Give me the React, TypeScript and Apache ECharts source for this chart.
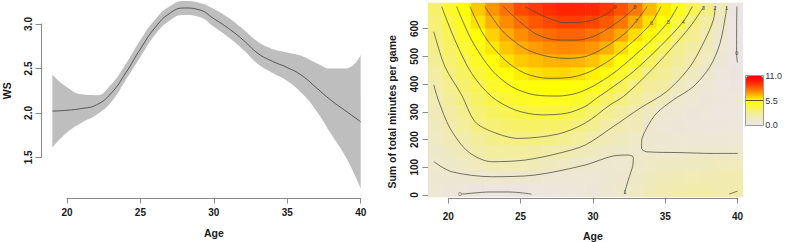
import React, { useEffect, useRef } from "react";
import * as echarts from "echarts";

// ---------- Left panel: WS by Age (smooth fit with confidence band) ----------
const ages = [19, 20, 21, 22, 23, 24, 25, 26, 27, 28, 29, 30, 31, 32, 33, 34, 35, 36, 37, 38, 39, 40];
const wsFit = [2.02, 2.03, 2.05, 2.09, 2.22, 2.45, 2.72, 2.96, 3.12, 3.18, 3.16, 3.06, 2.95, 2.82, 2.67, 2.58, 2.51, 2.42, 2.28, 2.14, 2.02, 1.9];
const wsUpper = [2.43, 2.29, 2.21, 2.2, 2.32, 2.55, 2.82, 3.05, 3.2, 3.26, 3.24, 3.17, 3.07, 2.94, 2.8, 2.72, 2.68, 2.64, 2.56, 2.5, 2.5, 2.65];
const wsLower = [1.61, 1.78, 1.89, 1.98, 2.12, 2.37, 2.63, 2.88, 3.04, 3.1, 3.08, 2.97, 2.85, 2.71, 2.55, 2.45, 2.36, 2.22, 2.02, 1.76, 1.5, 1.15];

// ---------- Right panel: fitted surface (Age x minutes) ----------
const minuteRows = [670, 625, 575, 530, 485, 435, 390, 345, 295, 250, 205, 155, 110, 60, 15];
const surface = [
  [3.4, 4.4, 5.35, 6.45, 7.35, 8.0, 8.75, 9.1, 9.4, 9.6, 9.6, 9.5, 9.2, 8.6, 7.85, 6.7, 5.8, 4.8, 3.85, 2.85, 1.6, 0],
  [3.2, 4.05, 4.95, 6.0, 6.85, 7.5, 8.03, 8.5, 8.8, 9.0, 9.0, 8.85, 8.45, 7.85, 7.0, 6.05, 5.35, 4.15, 2.97, 2.35, 1.2, 0],
  [3.0, 3.75, 4.6, 5.5, 6.3, 6.95, 7.45, 7.85, 8.1, 8.25, 8.25, 8.0, 7.6, 7.0, 6.1, 5.3, 4.35, 3.2, 2.65, 1.9, 0.85, 0],
  [2.8, 3.5, 4.25, 5.02, 5.9, 6.5, 6.9, 7.2, 7.45, 7.55, 7.5, 7.3, 6.85, 6.15, 5.35, 4.5, 3.5, 2.75, 2.3, 1.65, 0.65, 0],
  [2.55, 3.25, 3.85, 4.6, 5.4, 6.0, 6.4, 6.65, 6.8, 6.9, 6.8, 6.55, 6.05, 5.35, 4.55, 3.65, 2.8, 2.45, 1.97, 1.3, 0.5, 0],
  [2.25, 2.97, 3.55, 4.18, 4.85, 5.4, 5.8, 6.05, 6.15, 6.2, 6.05, 5.75, 5.15, 4.4, 3.7, 2.85, 2.55, 2.08, 1.45, 0.9, 0.35, 0.1],
  [2.0, 2.7, 3.3, 3.8, 4.4, 4.8, 5.15, 5.4, 5.5, 5.5, 5.3, 4.95, 4.25, 3.6, 2.9, 2.45, 2.3, 1.5, 0.97, 0.65, 0.25, 0.15],
  [1.8, 2.45, 2.95, 3.5, 3.95, 4.3, 4.55, 4.8, 4.8, 4.8, 4.55, 4.1, 3.45, 2.95, 2.45, 2.05, 1.5, 0.95, 0.65, 0.45, 0.2, 0.2],
  [1.6, 2.2, 2.65, 3.22, 3.55, 3.8, 3.9, 4.05, 4.05, 4.05, 3.75, 3.25, 2.65, 2.3, 1.95, 1.4, 0.7, 0.6, 0.45, 0.35, 0.25, 0.25],
  [1.45, 1.98, 2.4, 2.95, 3.2, 3.35, 3.45, 3.5, 3.45, 3.35, 3.0, 2.65, 2.2, 1.9, 1.6, 0.9, 0.55, 0.5, 0.4, 0.35, 0.3, 0.35],
  [1.3, 1.75, 2.15, 2.5, 2.8, 2.9, 3.0, 2.95, 2.85, 2.7, 2.4, 2.07, 1.7, 1.5, 1.25, 0.85, 0.7, 0.65, 0.6, 0.55, 0.55, 0.6],
  [1.1, 1.45, 1.7, 2.1, 2.35, 2.35, 2.4, 2.3, 2.15, 2.0, 1.75, 1.5, 1.2, 1.1, 1.02, 1.0, 1.0, 1.0, 1.0, 1.0, 1.0, 1.0],
  [0.98, 1.1, 1.3, 1.55, 1.85, 1.8, 1.8, 1.7, 1.45, 1.3, 1.1, 0.95, 0.85, 0.92, 1.05, 1.25, 1.35, 1.4, 1.45, 1.5, 1.55, 1.55],
  [0.8, 0.75, 0.75, 0.85, 0.95, 0.9, 0.9, 0.85, 0.65, 0.6, 0.55, 0.6, 0.7, 0.9, 1.15, 1.45, 1.65, 1.75, 1.8, 1.85, 1.9, 1.95],
  [0.65, 0.45, 0.2, 0.1, 0.05, 0.05, 0.1, 0.2, 0.2, 0.3, 0.35, 0.5, 0.7, 0.95, 1.25, 1.6, 1.85, 2.0, 2.1, 2.15, 1.95, 2.1],
];

// contour lines, [age, minutes]
const contour9 = [[25.3, 680], [26.68, 643], [28.06, 622], [29.45, 625], [30.83, 649], [31.55, 680]];
const contour8 = [[23.8, 680], [25.07, 619], [26.22, 577], [27.6, 559], [28.99, 559], [30.25, 577], [31.41, 613], [32.33, 649], [32.95, 680]];
const contour7 = [[22.53, 680], [23.69, 595], [25.07, 535], [26.45, 505], [28.06, 493], [29.45, 499], [30.71, 529], [32.21, 583], [33.02, 629], [33.75, 680]];
const contour6 = [[21.5, 680], [22.53, 571], [23.92, 487], [25.3, 439], [26.91, 421], [28.53, 425], [29.79, 445], [31.18, 487], [32.21, 529], [33.25, 577], [34.06, 622], [34.7, 680]];
const contour5 = [[20.58, 680], [21.61, 559], [23.0, 451], [24.38, 391], [25.99, 361], [27.6, 357], [28.87, 367], [30.02, 393], [31.41, 439], [32.79, 499], [34.17, 565], [35.21, 625], [35.85, 680]];
const contour4 = [[19.54, 680], [20.46, 559], [21.61, 439], [23.0, 355], [24.61, 307], [26.45, 289], [28.18, 295], [29.45, 319], [30.25, 349], [31.41, 391], [32.79, 445], [34.63, 535], [36.24, 625], [36.87, 680]];
const contour3 = [[19.0, 589], [19.77, 463], [20.92, 361], [21.84, 265], [23.0, 229], [24.84, 204], [27.6, 220], [29.45, 259], [31.18, 325], [32.1, 355], [33.71, 433], [35.32, 523], [36.71, 607], [37.67, 680]];
const contour2 = [[19.0, 397], [19.31, 343], [20.12, 241], [21.38, 156], [23.0, 120], [25.3, 126], [27.6, 150], [29.45, 180], [31.41, 247], [33.25, 313], [35.09, 373], [36.71, 463], [37.74, 559], [38.32, 631], [38.46, 680]];
const contour2b = [[39.4, 3], [40.0, 14]];
const contour1a = [[19.0, 120], [20.23, 84], [23.0, 66], [25.99, 72], [29.45, 108], [31.41, 141], [32.44, 144], [32.79, 136], [32.74, 102], [32.51, 66], [32.21, 12], [32.19, 4]];
const contour1b = [[39.24, 680], [39.19, 655], [38.78, 547], [38.09, 463], [36.94, 391], [35.55, 343], [34.4, 295], [33.71, 241], [33.36, 192], [33.36, 168], [33.71, 156], [36.01, 153], [38.32, 150], [40.0, 150]];
const contour0a = [[20.92, 3], [21.73, 7], [22.88, 11], [24.26, 11], [25.18, 7], [25.76, 3]];
const contour0b = [[39.95, 680], [39.93, 600], [39.93, 520], [39.96, 485], [40.0, 478]];
const contourLabels = [
  [31.52, 677, 9], [32.9, 677, 8], [33.02, 629, 7], [34.06, 622, 6], [35.21, 625, 5], [36.24, 625, 4],
  [37.63, 673, 3], [38.43, 673, 2], [39.24, 673, 1], [39.93, 511, 0], [20.81, 3, 0], [32.21, 12, 1],
];

const legendColors = ["#ECE5E1", "#EEE8CA", "#F2ECA8", "#F6F070", "#FCF830", "#FFFF00", "#FFC000", "#FF8000", "#FF4800", "#FF1800", "#FF0000"];

const FONT = "'Liberation Sans', Arial, Helvetica, sans-serif";
const AX = "#8a8a8a";

export default function App() {
  const ref = useRef<HTMLDivElement>(null);
  useEffect(() => {
    const chart = echarts.init(ref.current!, undefined, { renderer: "svg" });

    const lineAx = { show: true, lineStyle: { color: AX, width: 1 } };
    const tickAx = { show: true, length: 5.5, lineStyle: { color: AX, width: 1 } };
    const lbl = { fontFamily: FONT, fontSize: 10, fontWeight: "bold" as const, color: "#1a1a1a" };
    const nameTs = { fontFamily: FONT, fontSize: 10.5, fontWeight: "bold" as const, color: "#1a1a1a" };
    const hidden = { show: false, splitLine: { show: false } };

    const heatData: number[][] = [];
    surface.forEach((row, r) => row.forEach((v, c) => heatData.push([c, r, v])));

    const contours = [contour9, contour8, contour7, contour6, contour5, contour4, contour3, contour2, contour2b, contour1a, contour1b, contour0a, contour0b];

    const option: any = {
      animation: false,
      backgroundColor: "#ffffff",
      grid: [
        { left: 52.33, top: 0, width: 308.34, height: 198 },
        { left: 67, top: 197, width: 293.7, height: 1 },
        { left: 40, top: 24, width: 1, height: 133.4 },
        { left: 428.3, top: 3, width: 314.4, height: 194 },
        { left: 428.3, top: 3, width: 314.4, height: 194 },
        { left: 448.3, top: 197, width: 289.3, height: 1 },
        { left: 428, top: 28.67, width: 1, height: 166.33 },
        { left: 746, top: 76, width: 17, height: 49 },
      ],
      xAxis: [
        { gridIndex: 0, type: "category", boundaryGap: false, data: ages.map(String), ...hidden },
        {
          gridIndex: 1, type: "value", min: 20, max: 40, interval: 5, position: "bottom",
          axisLine: lineAx, axisTick: tickAx, splitLine: { show: false },
          axisLabel: { ...lbl, margin: 9 },
          name: "Age", nameLocation: "middle", nameGap: 29, nameTextStyle: nameTs,
        },
        { gridIndex: 2, type: "value", ...hidden },
        { gridIndex: 3, type: "category", data: ages.map(String), ...hidden },
        { gridIndex: 4, type: "value", min: 18.62, max: 40.35, ...hidden },
        {
          gridIndex: 5, type: "value", min: 20, max: 40, interval: 5, position: "bottom",
          axisLine: lineAx, axisTick: tickAx, splitLine: { show: false },
          axisLabel: { ...lbl, margin: 13 },
          name: "Age", nameLocation: "middle", nameGap: 32, nameTextStyle: nameTs,
        },
        { gridIndex: 6, type: "value", ...hidden },
        { gridIndex: 7, type: "category", data: ["0"], ...hidden },
      ],
      yAxis: [
        { gridIndex: 0, type: "value", min: 1.043, max: 3.27, ...hidden },
        { gridIndex: 1, type: "value", ...hidden },
        {
          gridIndex: 2, type: "value", min: 1.5, max: 3.0, interval: 0.5, position: "left",
          axisLine: lineAx, axisTick: tickAx, splitLine: { show: false },
          axisLabel: { ...lbl, rotate: 90, margin: 8, formatter: (v: number) => v.toFixed(1) },
          name: "WS", nameLocation: "middle", nameGap: 29, nameRotate: 90, nameTextStyle: nameTs,
        },
        { gridIndex: 3, type: "category", data: minuteRows.map(String), inverse: true, ...hidden },
        { gridIndex: 4, type: "value", min: -7.2, max: 692.6, ...hidden },
        { gridIndex: 5, type: "value", ...hidden },
        {
          gridIndex: 6, type: "value", min: 0, max: 600, interval: 100, position: "left",
          axisLine: lineAx, axisTick: tickAx, splitLine: { show: false },
          axisLabel: { ...lbl, rotate: 90, margin: 9 },
          name: "Sum of total minutes per game", nameLocation: "middle", nameGap: 31, nameRotate: 90, nameTextStyle: nameTs,
        },
        {
          gridIndex: 7, type: "value", min: 0, max: 11, interval: 5.5, position: "right",
          axisLine: { show: false }, axisTick: { show: false }, splitLine: { show: false },
          axisLabel: { fontFamily: FONT, fontSize: 9, color: "#333", margin: 6, formatter: (v: number) => v.toFixed(1) },
        },
      ],
      visualMap: {
        type: "continuous", seriesIndex: 3, min: 0, max: 11, show: true, calculable: false,
        left: 746, top: 76, itemWidth: 17, itemHeight: 49, padding: 0, hoverLink: false,
        inRange: { color: legendColors },
      },
      graphic: [
        { type: "rect", shape: { x: 745.5, y: 75.5, width: 18, height: 50 }, style: { fill: "none", stroke: "#9a9a9a", lineWidth: 1 }, z: 100, silent: true },
        { type: "line", shape: { x1: 746, y1: 100.5, x2: 763, y2: 100.5 }, style: { stroke: "#55552a", lineWidth: 1 }, z: 100, silent: true },
      ],
      series: [
        {
          type: "line", xAxisIndex: 0, yAxisIndex: 0, stack: "ci", symbol: "none", smooth: true, silent: true,
          data: wsLower, lineStyle: { width: 0, opacity: 0 },
        },
        {
          type: "line", xAxisIndex: 0, yAxisIndex: 0, stack: "ci", symbol: "none", smooth: true, silent: true,
          data: wsUpper.map((u, i) => +(u - wsLower[i]).toFixed(3)),
          lineStyle: { width: 0, opacity: 0 }, areaStyle: { color: "#BEBEBE", opacity: 1 },
        },
        {
          type: "line", xAxisIndex: 0, yAxisIndex: 0, symbol: "none", smooth: true, silent: true,
          data: wsFit, lineStyle: { color: "#3a3a3a", width: 0.8 },
        },
        {
          type: "heatmap", xAxisIndex: 3, yAxisIndex: 3, data: heatData, silent: true,
          itemStyle: { borderWidth: 0 }, emphasis: { disabled: true }, progressive: 0,
        },
        ...contours.map((pts) => ({
          type: "line", xAxisIndex: 4, yAxisIndex: 4, symbol: "none", smooth: 0.3, silent: true, z: 3,
          data: pts, lineStyle: { color: "#4a4a3a", width: 0.75 },
        })),
        {
          type: "scatter", xAxisIndex: 4, yAxisIndex: 4, symbolSize: 0, silent: true, z: 4,
          data: contourLabels,
          label: { show: true, position: "inside", formatter: (p: any) => String(p.value[2]), fontFamily: FONT, fontSize: 6, color: "#333" },
        },
      ],
    };
    chart.setOption(option);
    return () => chart.dispose();
  }, []);
  return <div ref={ref} style={{ position: "fixed", left: 0, top: 0, width: 785, height: 242, background: "#fff" }} />;
}
